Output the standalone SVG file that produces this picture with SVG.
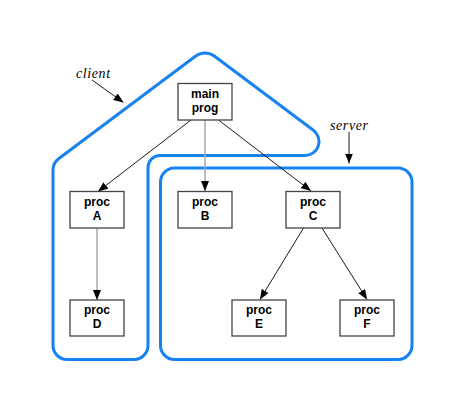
<svg xmlns="http://www.w3.org/2000/svg" width="464" height="412" viewBox="0 0 464 412">
<style>
.box{fill:#fff;stroke:#444;stroke-width:1.3}
.lbl{font-family:"Liberation Sans",Arial,sans-serif;font-weight:bold;font-size:12px;fill:#000;text-anchor:middle}
.note{font-family:"Liberation Serif","Times New Roman",serif;font-style:italic;font-size:14px;fill:#000;letter-spacing:0.6px}
.edge{stroke:#000;stroke-width:0.9;fill:none;marker-end:url(#ah)}
.gedge{stroke:#aaa;stroke-width:1.5;fill:none;marker-end:url(#ah)}
.region{fill:none;stroke:#1782f2;stroke-width:3}
</style>
<defs>
<marker id="ah" markerUnits="userSpaceOnUse" markerWidth="10" markerHeight="8" viewBox="0 0 10 8" refX="10" refY="4" orient="auto">
<path d="M0,0 L10,4 L0,8 Z" fill="#000"/>
</marker>
</defs>
<rect width="464" height="412" fill="#fff"/>
<g id="regions">
<path id="client-region" class="region" d="M 53,345.5 L 53,170 A 14 14 0 0 1 58.6,158.8 L 195.4,56.2 A 16 16 0 0 1 214.6,56.2 L 313.4,130.3 A 14 14 0 0 1 305,155.5 L 160,155.5 A 12 12 0 0 0 148,167.5 L 148,345.5 A 14 14 0 0 1 134,359.5 L 67,359.5 A 14 14 0 0 1 53,345.5 Z"/>
<rect id="server-region" class="region" x="160.5" y="168" width="251.5" height="191.5" rx="14"/>
</g>
<g id="connectors">
<line class="edge" x1="191" y1="120" x2="98" y2="191.5"/>
<line class="gedge" x1="205" y1="120" x2="205" y2="191"/>
<line class="edge" x1="218.5" y1="120" x2="311" y2="191"/>
<line class="gedge" x1="97" y1="228" x2="97" y2="300"/>
<line class="edge" x1="303.5" y1="228" x2="260" y2="299.5"/>
<line class="edge" x1="322" y1="228" x2="367" y2="299.5"/>
<line class="edge" x1="92" y1="80" x2="123.5" y2="102.5"/>
<line class="edge" x1="349" y1="132" x2="349" y2="163.5"/>
</g>
<g id="note-client"><text class="note" x="76" y="77.5">client</text></g>
<g id="note-server"><text class="note" x="330" y="130">server</text></g>
<g id="main">
<rect class="box" x="178" y="83.5" width="54" height="36.5"/>
<text class="lbl" x="205" y="97.5">main</text>
<text class="lbl" x="205" y="111.5">prog</text>
</g>
<g id="procA">
<rect class="box" x="70" y="191.5" width="54" height="36.5"/>
<text class="lbl" x="97" y="205.5">proc</text>
<text class="lbl" x="97" y="219.5">A</text>
</g>
<g id="procB">
<rect class="box" x="178" y="191.5" width="54" height="36.5"/>
<text class="lbl" x="205" y="205.5">proc</text>
<text class="lbl" x="205" y="219.5">B</text>
</g>
<g id="procC">
<rect class="box" x="286" y="191.5" width="54" height="36.5"/>
<text class="lbl" x="313" y="205.5">proc</text>
<text class="lbl" x="313" y="219.5">C</text>
</g>
<g id="procD">
<rect class="box" x="70" y="300" width="54" height="36"/>
<text class="lbl" x="97" y="313.5">proc</text>
<text class="lbl" x="97" y="327.5">D</text>
</g>
<g id="procE">
<rect class="box" x="232" y="300" width="54" height="36"/>
<text class="lbl" x="259" y="313.5">proc</text>
<text class="lbl" x="259" y="327.5">E</text>
</g>
<g id="procF">
<rect class="box" x="340" y="300" width="54" height="36"/>
<text class="lbl" x="367" y="313.5">proc</text>
<text class="lbl" x="367" y="327.5">F</text>
</g>
</svg>
